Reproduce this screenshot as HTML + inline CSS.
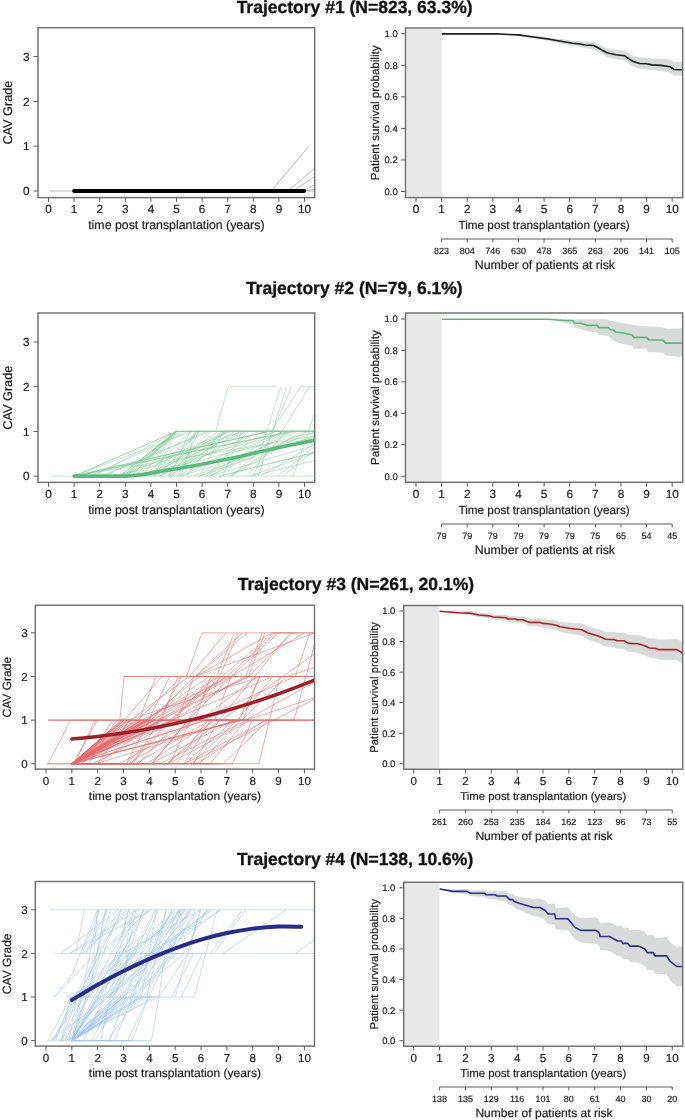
<!DOCTYPE html>
<html><head><meta charset="utf-8"><title>Trajectories</title>
<style>
html,body{margin:0;padding:0;background:#fff;}
svg{display:block;font-family:'Liberation Sans', Arial, Helvetica, sans-serif;text-rendering:geometricPrecision;}
</style></head><body>
<svg width="685" height="1120" viewBox="0 0 685 1120">
<rect width="685" height="1120" fill="#fff"/>
<defs>
<clipPath id="c0"><rect x="38.4" y="28.1" width="275.9" height="169.1"/></clipPath>
<clipPath id="c1"><rect x="38.4" y="313.4" width="275.9" height="168.6"/></clipPath>
<clipPath id="c2"><rect x="35.7" y="605.6" width="278.4" height="163.1"/></clipPath>
<clipPath id="c3"><rect x="35.7" y="881.9" width="278.4" height="163.8"/></clipPath>
<clipPath id="c4"><rect x="405.9" y="28.4" width="276.4" height="168.8"/></clipPath>
<clipPath id="c5"><rect x="405.9" y="313.4" width="276.4" height="168.5"/></clipPath>
<clipPath id="c6"><rect x="404.15" y="605.9" width="278.15" height="162.95"/></clipPath>
<clipPath id="c7"><rect x="404.15" y="882.65" width="278.15" height="163.2"/></clipPath>
</defs>
<text x="354.6" y="13.2" font-size="17.5" text-anchor="middle" font-weight="bold" stroke="#111" stroke-width="0.3" fill="#111">Trajectory #1 (N=823, 63.3%)</text>
<text x="354.3" y="294.4" font-size="17.55" text-anchor="middle" font-weight="bold" stroke="#111" stroke-width="0.3" fill="#111">Trajectory #2 (N=79, 6.1%)</text>
<text x="355.9" y="590" font-size="17.55" text-anchor="middle" font-weight="bold" stroke="#111" stroke-width="0.3" fill="#111">Trajectory #3 (N=261, 20.1%)</text>
<text x="355.1" y="864.8" font-size="17.55" text-anchor="middle" font-weight="bold" stroke="#111" stroke-width="0.3" fill="#111">Trajectory #4 (N=138, 10.6%)</text>
<g clip-path="url(#c0)" fill="none" stroke="#b0b0b0" stroke-width="0.9" stroke-opacity="1" stroke-linejoin="round">
<path d="M49.78 191L319.86 191M271.22 191L308.85 146.2M287.86 191L319.86 164.12M292.98 191L319.86 173.08M303.22 191L319.86 182.04M304.5 191L319.86 188.31"/>
</g>
<path d="M74.1 191L303.99 191" fill="none" stroke="#000" stroke-width="3.9" stroke-linecap="round" clip-path="url(#c0)"/>
<rect x="38" y="27.7" width="276.7" height="169.9" fill="none" stroke="#707070" stroke-width="1.45"/>
<path d="M48.5 197.6v4.3M74.1 197.6v4.3M99.7 197.6v4.3M125.3 197.6v4.3M150.9 197.6v4.3M176.5 197.6v4.3M202.1 197.6v4.3M227.7 197.6v4.3M253.3 197.6v4.3M278.9 197.6v4.3M304.5 197.6v4.3M38 191h-4.4M38 146.2h-4.4M38 101.4h-4.4M38 56.6h-4.4" stroke="#5c5c5c" stroke-width="1" fill="none"/>
<text x="48.5" y="212.6" font-size="11.75" text-anchor="middle" stroke="#1a1a1a" stroke-width="0.18" fill="#1a1a1a">0</text>
<text x="74.1" y="212.6" font-size="11.75" text-anchor="middle" stroke="#1a1a1a" stroke-width="0.18" fill="#1a1a1a">1</text>
<text x="99.7" y="212.6" font-size="11.75" text-anchor="middle" stroke="#1a1a1a" stroke-width="0.18" fill="#1a1a1a">2</text>
<text x="125.3" y="212.6" font-size="11.75" text-anchor="middle" stroke="#1a1a1a" stroke-width="0.18" fill="#1a1a1a">3</text>
<text x="150.9" y="212.6" font-size="11.75" text-anchor="middle" stroke="#1a1a1a" stroke-width="0.18" fill="#1a1a1a">4</text>
<text x="176.5" y="212.6" font-size="11.75" text-anchor="middle" stroke="#1a1a1a" stroke-width="0.18" fill="#1a1a1a">5</text>
<text x="202.1" y="212.6" font-size="11.75" text-anchor="middle" stroke="#1a1a1a" stroke-width="0.18" fill="#1a1a1a">6</text>
<text x="227.7" y="212.6" font-size="11.75" text-anchor="middle" stroke="#1a1a1a" stroke-width="0.18" fill="#1a1a1a">7</text>
<text x="253.3" y="212.6" font-size="11.75" text-anchor="middle" stroke="#1a1a1a" stroke-width="0.18" fill="#1a1a1a">8</text>
<text x="278.9" y="212.6" font-size="11.75" text-anchor="middle" stroke="#1a1a1a" stroke-width="0.18" fill="#1a1a1a">9</text>
<text x="304.5" y="212.6" font-size="11.75" text-anchor="middle" stroke="#1a1a1a" stroke-width="0.18" fill="#1a1a1a">10</text>
<text x="29.6" y="195.2" font-size="11.75" text-anchor="end" stroke="#1a1a1a" stroke-width="0.18" fill="#1a1a1a">0</text>
<text x="29.6" y="150.4" font-size="11.75" text-anchor="end" stroke="#1a1a1a" stroke-width="0.18" fill="#1a1a1a">1</text>
<text x="29.6" y="105.6" font-size="11.75" text-anchor="end" stroke="#1a1a1a" stroke-width="0.18" fill="#1a1a1a">2</text>
<text x="29.6" y="60.8" font-size="11.75" text-anchor="end" stroke="#1a1a1a" stroke-width="0.18" fill="#1a1a1a">3</text>
<text x="176.35" y="228.6" font-size="12.35" text-anchor="middle" stroke="#1a1a1a" stroke-width="0.18" fill="#1a1a1a">time post transplantation (years)</text>
<text x="11.6" y="112.65" font-size="12.7" text-anchor="middle" stroke="#1a1a1a" stroke-width="0.18" fill="#1a1a1a" transform="rotate(-90 11.6 112.65)">CAV Grade</text>
<g clip-path="url(#c1)" fill="none" stroke="#84cb9c" stroke-width="0.9" stroke-opacity="0.55" stroke-linejoin="round">
<path d="M51.06 476.1L319.86 476.1M176.5 431.4L319.86 431.4M215.67 431.4L228.21 386.7L276.34 386.7M260.98 449.28L280.95 386.7M253.3 476.1L291.7 386.7M271.22 431.4L300.66 386.7L319.86 386.7M278.9 435.87L309.62 386.7M293.24 476.1L319.86 397.88M258.42 476.1L286.58 386.7M74.1 476.1L268.66 431.4L319.86 431.4M74.1 476.1L268.66 431.4L294.26 431.4M74.1 476.1L291.7 431.4L342.9 431.4M74.1 476.1L191.86 431.4M74.1 476.1L291.7 431.4L317.3 431.4M74.1 476.1L342.9 431.4L394.1 431.4M74.1 476.1L176.5 431.4M74.1 476.1L268.66 431.4M74.1 476.1L176.5 431.4M74.1 476.1L291.7 431.4L319.86 431.4M102.45 476.1L209.79 431.4L235.39 431.4M102.85 476.1L206.79 431.4L257.99 431.4M89.77 476.1L187.69 431.4M93.36 476.1L176.5 431.4L202.1 431.4M121.74 476.1L227.65 431.4L278.85 431.4M119.85 476.1L176.5 431.4L319.86 431.4M116.8 476.1L242.53 431.4L293.73 431.4M135.45 476.1L176.5 431.4M130.58 476.1L230.82 431.4M126.59 476.1L176.5 431.4M122.98 476.1L176.5 431.4M119.43 476.1L176.5 431.4L319.86 431.4M123.2 476.1L176.5 431.4M131 476.1L176.5 431.4M134.8 476.1L318.33 431.4M120.11 476.1L176.5 431.4L202.1 431.4M131.38 476.1L176.5 431.4M124.22 476.1L180.39 431.4L205.99 431.4M128.24 476.1L176.5 431.4M115.07 476.1L295.22 431.4M144.98 476.1L226.85 431.4L278.05 431.4M153.8 476.1L176.5 431.4M145.03 476.1L191.21 431.4L242.41 431.4M147.4 476.1L197.43 431.4M142.51 476.1L246.3 431.4M152.97 476.1L218.23 431.4M160.3 476.1L240.51 431.4M158.41 476.1L198.11 431.4M159.26 476.1L259.1 431.4M143.91 476.1L276.42 431.4M154.73 476.1L235.44 431.4L286.64 431.4M142.27 476.1L176.5 431.4M151.15 476.1L199.67 431.4L319.86 431.4M148.68 476.1L228.8 431.4L280 431.4M176.32 476.1L275.39 431.4L319.86 431.4M186.27 476.1L221.89 431.4L273.09 431.4M179.64 476.1L283.21 431.4M170.61 476.1L224.36 431.4M171.77 476.1L246 431.4M169.87 476.1L234.19 431.4M168.15 476.1L210.55 431.4M179.71 476.1L333.54 431.4M178.34 476.1L198.56 431.4M180.62 476.1L196.19 431.4L319.86 431.4M167.79 476.1L195.75 431.4M169.06 476.1L190.31 431.4L241.51 431.4M199.39 476.1L223.97 431.4L319.86 431.4M206.96 476.1L248.36 431.4M199.07 476.1L326.79 431.4M209.7 476.1L291.05 431.4M209.54 476.1L306.97 431.4L319.86 431.4M199.69 476.1L297.1 431.4M193.5 476.1L317.57 431.4M209.88 476.1L361.74 431.4M206.08 476.1L282.27 431.4L333.47 431.4M219.18 476.1L398.52 431.4M229.77 476.1L301.68 431.4L319.86 431.4M219.77 476.1L400.14 431.4L425.74 431.4M222.7 476.1L241.83 431.4M231.35 476.1L282.74 431.4M230.98 476.1L307.76 431.4M249.76 476.1L375.2 431.4M251.88 476.1L433.69 431.4M261.09 476.1L335.02 431.4M247.36 476.1L285.72 431.4M283.23 476.1L337.72 431.4M277.89 476.1L333.45 431.4L359.05 431.4"/>
</g>
<path d="M74.1 476.1C78.37 476.1 91.17 476.1 99.7 476.1C108.23 476.1 118.9 476.26 125.3 476.1C131.7 475.94 133.83 475.62 138.1 475.12C142.37 474.62 144.5 474.17 150.9 473.11C157.3 472.04 167.97 470.2 176.5 468.72C185.03 467.25 193.57 465.86 202.1 464.25C210.63 462.65 219.17 460.94 227.7 459.11C236.23 457.29 244.77 455.24 253.3 453.3C261.83 451.37 268.66 449.69 278.9 447.49C289.14 445.29 307.06 441.68 314.74 440.12C322.42 438.55 323.27 438.44 324.98 438.11" fill="none" stroke="#5cb87c" stroke-width="3.6" stroke-linecap="round" clip-path="url(#c1)"/>
<rect x="38" y="313" width="276.7" height="169.4" fill="none" stroke="#707070" stroke-width="1.45"/>
<path d="M48.5 482.4v4.3M74.1 482.4v4.3M99.7 482.4v4.3M125.3 482.4v4.3M150.9 482.4v4.3M176.5 482.4v4.3M202.1 482.4v4.3M227.7 482.4v4.3M253.3 482.4v4.3M278.9 482.4v4.3M304.5 482.4v4.3M38 476.1h-4.4M38 431.4h-4.4M38 386.7h-4.4M38 342h-4.4" stroke="#5c5c5c" stroke-width="1" fill="none"/>
<text x="48.5" y="497.6" font-size="11.75" text-anchor="middle" stroke="#1a1a1a" stroke-width="0.18" fill="#1a1a1a">0</text>
<text x="74.1" y="497.6" font-size="11.75" text-anchor="middle" stroke="#1a1a1a" stroke-width="0.18" fill="#1a1a1a">1</text>
<text x="99.7" y="497.6" font-size="11.75" text-anchor="middle" stroke="#1a1a1a" stroke-width="0.18" fill="#1a1a1a">2</text>
<text x="125.3" y="497.6" font-size="11.75" text-anchor="middle" stroke="#1a1a1a" stroke-width="0.18" fill="#1a1a1a">3</text>
<text x="150.9" y="497.6" font-size="11.75" text-anchor="middle" stroke="#1a1a1a" stroke-width="0.18" fill="#1a1a1a">4</text>
<text x="176.5" y="497.6" font-size="11.75" text-anchor="middle" stroke="#1a1a1a" stroke-width="0.18" fill="#1a1a1a">5</text>
<text x="202.1" y="497.6" font-size="11.75" text-anchor="middle" stroke="#1a1a1a" stroke-width="0.18" fill="#1a1a1a">6</text>
<text x="227.7" y="497.6" font-size="11.75" text-anchor="middle" stroke="#1a1a1a" stroke-width="0.18" fill="#1a1a1a">7</text>
<text x="253.3" y="497.6" font-size="11.75" text-anchor="middle" stroke="#1a1a1a" stroke-width="0.18" fill="#1a1a1a">8</text>
<text x="278.9" y="497.6" font-size="11.75" text-anchor="middle" stroke="#1a1a1a" stroke-width="0.18" fill="#1a1a1a">9</text>
<text x="304.5" y="497.6" font-size="11.75" text-anchor="middle" stroke="#1a1a1a" stroke-width="0.18" fill="#1a1a1a">10</text>
<text x="29.6" y="480.3" font-size="11.75" text-anchor="end" stroke="#1a1a1a" stroke-width="0.18" fill="#1a1a1a">0</text>
<text x="29.6" y="435.6" font-size="11.75" text-anchor="end" stroke="#1a1a1a" stroke-width="0.18" fill="#1a1a1a">1</text>
<text x="29.6" y="390.9" font-size="11.75" text-anchor="end" stroke="#1a1a1a" stroke-width="0.18" fill="#1a1a1a">2</text>
<text x="29.6" y="346.2" font-size="11.75" text-anchor="end" stroke="#1a1a1a" stroke-width="0.18" fill="#1a1a1a">3</text>
<text x="176.35" y="513.6" font-size="12.35" text-anchor="middle" stroke="#1a1a1a" stroke-width="0.18" fill="#1a1a1a">time post transplantation (years)</text>
<text x="11.6" y="397.7" font-size="12.7" text-anchor="middle" stroke="#1a1a1a" stroke-width="0.18" fill="#1a1a1a" transform="rotate(-90 11.6 397.7)">CAV Grade</text>
<g clip-path="url(#c2)" fill="none" stroke="#e26a6a" stroke-width="0.9" stroke-opacity="0.62" stroke-linejoin="round">
<path d="M48.07 720.15L319.9 720.15M48.07 720.15L319.9 720.15M48.58 720.15L319.9 720.15M71.84 720.15L319.9 720.15M47.29 763.8L201.04 763.8M124.04 676.5L319.9 676.5M47.29 763.8L258.92 763.8L279.85 676.5L319.9 676.5M48.07 763.8L70.55 720.15M73.13 763.8L97.42 720.15M74.42 763.8L95.1 720.15M119.9 720.15L124.04 676.5L319.9 676.5M139.02 720.15L155.82 676.5M186.57 676.5L201.82 632.85L319.9 632.85M294.06 720.15L319.9 624.12M216.54 676.5L234.37 632.85M213.96 689.59L238.25 632.85M71.84 763.8L120.94 720.15M71.84 763.8L123.52 720.15M71.84 763.8L127.4 720.15M71.84 763.8L131.27 720.15M71.84 763.8L136.44 720.15M71.84 763.8L141.61 720.15M71.84 763.8L146.78 720.15M71.84 763.8L154.53 720.15M169.68 763.8L190.65 720.15L330.21 676.5M71.84 763.8L242.94 720.15L259.47 676.5M71.84 763.8L154.43 720.15M71.84 763.8L148.17 720.15M151.97 763.8L187.82 720.15L217.66 676.5M71.84 763.8L96.14 763.8L236.95 720.15M71.84 763.8L124.39 720.15L161.89 676.5M71.84 763.8L96.45 763.8M195.13 676.5L242.23 632.85M71.84 763.8L147.18 720.15L199.28 676.5M71.84 763.8L163.12 720.15L185.66 720.15M200.64 763.8L216.7 763.8M97.28 763.8L129.74 720.15M71.84 763.8L141.56 720.15L230.93 676.5L304.55 632.85M71.84 763.8L248.48 676.5L292.46 632.85M146.16 763.8L214.45 720.15L231.13 676.5L278.67 632.85M135.82 763.8L192.25 763.8L237.11 720.15L272.92 676.5M223.51 720.15L279.77 720.15M195.77 676.5L271.98 632.85L296.56 632.85M195.86 676.5L247.24 632.85M130.05 763.8L173.01 720.15L243.98 676.5M71.84 763.8L148.73 720.15L169.72 676.5M71.84 763.8L170.97 720.15L273.41 632.85L348.24 632.85M71.84 763.8L119.54 763.8L194.75 720.15L210.82 676.5M71.84 763.8L272.4 676.5M199.94 720.15L257.13 676.5M126.21 763.8L215.66 676.5M184.46 763.8L234.08 720.15M120.41 763.8L167.56 763.8L213.24 720.15M151.34 763.8L188.65 720.15M92.66 763.8L177.58 720.15L193.98 676.5L268.48 676.5M183.88 763.8L210.66 720.15L236.27 720.15M71.84 763.8L206.07 720.15M71.84 763.8L135.2 763.8L210.54 720.15M245.73 676.5L262.35 632.85M95.94 763.8L168.16 763.8L250.7 720.15M71.84 763.8L139.5 720.15M159.77 763.8L247.13 720.15M71.84 763.8L227.22 676.5L275.95 632.85M71.84 763.8L161.37 720.15L177.95 676.5M71.84 763.8L127.99 720.15L261.19 676.5M71.84 763.8L175.33 720.15M203.85 720.15L224.27 720.15M257.69 676.5L310.97 676.5M71.84 763.8L142 720.15M176.27 763.8L207.57 720.15L248.49 720.15M245.53 720.15L324.59 676.5M71.84 763.8L145.38 720.15M193.4 763.8L219.09 720.15L290.31 632.85M71.84 763.8L141.21 720.15M221.49 720.15L282.57 676.5L344.22 632.85M71.84 763.8L205.89 720.15L248.31 720.15M71.84 763.8L233.35 676.5M190.31 763.8L223.38 763.8L268.32 720.15M166.78 763.8L220.24 720.15M71.84 763.8L133.87 720.15M71.84 763.8L145.63 720.15L209.27 676.5M128.46 763.8L198.57 720.15L295.08 676.5L309.86 632.85M133.18 763.8L159.39 720.15L181.46 676.5M190.47 763.8L232.4 763.8L252.28 720.15M71.84 763.8L128.37 720.15M71.84 763.8L153.23 720.15M120.04 720.15L149.04 720.15L174.87 720.15M71.84 763.8L173.56 720.15L212.34 676.5M188.42 763.8L358.7 676.5M71.84 763.8L143.59 720.15M71.84 763.8L124.15 720.15M82.93 763.8L112.94 720.15M71.84 763.8L150.57 720.15L194.75 676.5L315.25 632.85M71.84 763.8L122.59 720.15M97.08 763.8L159.53 720.15L227 676.5M71.84 763.8L238.77 720.15L260.18 676.5M79.79 763.8L160.88 720.15M71.84 763.8L241.45 720.15L287.04 676.5L419.29 632.85M71.84 763.8L125.14 720.15M71.84 763.8L102.94 763.8M150.84 763.8L233.83 720.15M71.84 763.8L189.32 676.5L225.87 632.85M193.12 763.8L209.99 763.8L245.89 720.15L513.56 632.85M71.84 763.8L180.86 720.15M184.39 763.8L266.64 720.15L294.71 720.15M71.84 763.8L146.9 763.8M71.84 763.8L136.52 763.8L188.57 763.8M138.26 763.8L179.97 720.15M199.39 720.15L237.51 720.15M71.84 763.8L137.91 720.15L181.21 676.5L251.58 676.5M199.07 763.8L240.36 720.15M71.84 763.8L219.03 676.5M71.84 763.8L156.63 720.15L248.42 676.5L264.77 632.85M71.84 763.8L135.58 763.8M71.84 763.8L121.77 720.15M88.43 763.8L116.48 720.15M71.84 763.8L164.9 720.15L187.94 720.15L231.65 676.5M92.33 763.8L126.1 763.8L149.6 720.15M196.8 763.8L265.46 720.15"/>
</g>
<path d="M71.84 738.92C76.15 738.5 89.07 737.4 97.68 736.41C106.29 735.43 114.91 734.29 123.52 733.01C132.13 731.73 140.75 730.3 149.36 728.71C157.97 727.13 166.59 725.4 175.2 723.52C183.81 721.64 192.43 719.61 201.04 717.43C209.65 715.26 218.27 712.93 226.88 710.45C235.49 707.98 244.11 705.35 252.72 702.58C261.33 699.8 269.95 696.88 278.56 693.81C287.17 690.73 296.65 687.15 304.4 684.14C312.15 681.13 321.63 677.16 325.07 675.76" fill="none" stroke="#a01e28" stroke-width="3.5" stroke-linecap="round" clip-path="url(#c2)"/>
<rect x="35.3" y="605.2" width="279.2" height="163.9" fill="none" stroke="#707070" stroke-width="1.45"/>
<path d="M46 769.1v4.3M71.84 769.1v4.3M97.68 769.1v4.3M123.52 769.1v4.3M149.36 769.1v4.3M175.2 769.1v4.3M201.04 769.1v4.3M226.88 769.1v4.3M252.72 769.1v4.3M278.56 769.1v4.3M304.4 769.1v4.3M35.3 763.8h-4.4M35.3 720.15h-4.4M35.3 676.5h-4.4M35.3 632.85h-4.4" stroke="#5c5c5c" stroke-width="1" fill="none"/>
<text x="46" y="785" font-size="11.6" text-anchor="middle" stroke="#1a1a1a" stroke-width="0.18" fill="#1a1a1a">0</text>
<text x="71.84" y="785" font-size="11.6" text-anchor="middle" stroke="#1a1a1a" stroke-width="0.18" fill="#1a1a1a">1</text>
<text x="97.68" y="785" font-size="11.6" text-anchor="middle" stroke="#1a1a1a" stroke-width="0.18" fill="#1a1a1a">2</text>
<text x="123.52" y="785" font-size="11.6" text-anchor="middle" stroke="#1a1a1a" stroke-width="0.18" fill="#1a1a1a">3</text>
<text x="149.36" y="785" font-size="11.6" text-anchor="middle" stroke="#1a1a1a" stroke-width="0.18" fill="#1a1a1a">4</text>
<text x="175.2" y="785" font-size="11.6" text-anchor="middle" stroke="#1a1a1a" stroke-width="0.18" fill="#1a1a1a">5</text>
<text x="201.04" y="785" font-size="11.6" text-anchor="middle" stroke="#1a1a1a" stroke-width="0.18" fill="#1a1a1a">6</text>
<text x="226.88" y="785" font-size="11.6" text-anchor="middle" stroke="#1a1a1a" stroke-width="0.18" fill="#1a1a1a">7</text>
<text x="252.72" y="785" font-size="11.6" text-anchor="middle" stroke="#1a1a1a" stroke-width="0.18" fill="#1a1a1a">8</text>
<text x="278.56" y="785" font-size="11.6" text-anchor="middle" stroke="#1a1a1a" stroke-width="0.18" fill="#1a1a1a">9</text>
<text x="304.4" y="785" font-size="11.6" text-anchor="middle" stroke="#1a1a1a" stroke-width="0.18" fill="#1a1a1a">10</text>
<text x="27.6" y="768" font-size="11.6" text-anchor="end" stroke="#1a1a1a" stroke-width="0.18" fill="#1a1a1a">0</text>
<text x="27.6" y="724.35" font-size="11.6" text-anchor="end" stroke="#1a1a1a" stroke-width="0.18" fill="#1a1a1a">1</text>
<text x="27.6" y="680.7" font-size="11.6" text-anchor="end" stroke="#1a1a1a" stroke-width="0.18" fill="#1a1a1a">2</text>
<text x="27.6" y="637.05" font-size="11.6" text-anchor="end" stroke="#1a1a1a" stroke-width="0.18" fill="#1a1a1a">3</text>
<text x="174.9" y="800.2" font-size="12.05" text-anchor="middle" stroke="#1a1a1a" stroke-width="0.18" fill="#1a1a1a">time post transplantation (years)</text>
<text x="11.1" y="687.15" font-size="12.05" text-anchor="middle" stroke="#1a1a1a" stroke-width="0.18" fill="#1a1a1a" transform="rotate(-90 11.1 687.15)">CAV Grade</text>
<g clip-path="url(#c3)" fill="none" stroke="#a6c7ea" stroke-width="0.85" stroke-opacity="0.68" stroke-linejoin="round">
<path d="M49.88 909.8L319.9 909.8M55.04 953.4L319.9 953.4M66.67 997L194.32 997L217.32 909.8M47.29 1040.6L151.43 1040.6L158.92 997L164.86 953.4M73.13 1040.6L98.46 909.8M48.07 1040.6L70.55 997M53.75 1040.6L77.01 997M55.04 997L95.1 953.4M60.99 953.4L118.35 909.8M53.75 997L71.84 975.2L97.68 909.8M93.8 953.4L97.68 909.8M175.2 997L200.26 909.8M210.6 953.4L242.38 909.8M213.96 953.4L245.48 909.8M223 953.4L286.05 909.8M295.61 953.4L319.9 935.96M71.84 1040.6L120.94 997M71.84 1040.6L123.52 997M71.84 1040.6L127.4 997M71.84 1040.6L131.27 997M71.84 1040.6L136.44 997M71.84 1040.6L141.61 997M71.84 1040.6L146.78 997M71.84 1040.6L154.53 997M71.84 1040.6L80.39 997L220.69 909.8M158.55 953.4L178.67 909.8M66.56 997L161.05 953.4M71.84 1040.6L146.92 909.8M109.38 997L174.64 909.8M87.84 997L105.42 909.8M171.59 997L193.58 953.4M82.34 953.4L130.43 909.8M61.46 1040.6L70.37 997M71.84 1040.6L151.48 953.4L185.35 909.8M71.84 1040.6L96.06 997M71.84 1040.6L90.13 1040.6M52.87 1040.6L97.04 953.4L106.12 909.8M71.84 1040.6L127.14 953.4L136.09 909.8M123 997L208.18 909.8M67.23 1040.6L120.25 997L128.25 953.4M76.06 997L182.01 909.8M71.84 1040.6L101.11 997L220.87 909.8M58.93 1040.6L157.12 953.4L209.53 909.8M55.56 1040.6L71.89 997M74.51 1040.6L90.9 1040.6L124.33 1040.6M109.36 997L132.53 953.4L155.05 909.8M150.27 953.4L172.16 909.8M111.28 997L121.14 997L191.59 909.8M71.84 1040.6L101.1 1040.6M150.55 953.4L211.86 909.8M69.14 1040.6L76.75 997L122.14 953.4L143.87 909.8M71.84 1040.6L140.55 997L152 997M71.84 1040.6L83.58 1040.6L104.22 997M75.82 953.4L84.5 909.8M71.84 1040.6L105 1040.6L114.46 1040.6M71.84 1040.6L139.49 997M71.84 1040.6L100.46 953.4M71.84 1040.6L98.82 997M51.06 1040.6L82.98 997L110.66 909.8M181.19 997L202.62 953.4M96.53 997L133.37 953.4M71.84 1040.6L175.29 953.4M64.93 1040.6L134.99 909.8M71.84 1040.6L143.38 997M124.75 953.4L133.39 909.8M102.77 953.4L149.1 909.8M132.61 997L146.61 953.4L172.45 909.8M96.37 953.4L125.29 909.8M71.84 1040.6L138.92 909.8M98.16 1040.6L127.34 1040.6L144.27 1040.6M137.92 997L171.98 953.4L195.5 909.8M93.05 1040.6L127.59 1040.6L169.75 953.4L190.1 909.8M167.88 953.4L205.01 953.4M71.33 997L148.69 953.4L164.33 953.4M117.9 953.4L180.23 909.8M61.71 1040.6L124.9 997M69.62 953.4L151.48 909.8M51 1040.6L164.84 953.4L199.54 909.8M71.84 1040.6L88.1 997L122.89 953.4M69.54 1040.6L103.52 997L128.9 909.8M100.67 1040.6L128.39 909.8M79.78 997L156.59 953.4L190.3 909.8M114.29 1040.6L151.81 953.4L211.8 909.8M95.23 1040.6L120.67 997L152.35 997M74.84 1040.6L115.67 997M141.34 997L156.73 909.8M61.21 1040.6L77.32 997L100.04 953.4L144.51 909.8M73.41 997L120.28 953.4M107.95 1040.6L132.12 1040.6L148.31 997M85.78 953.4L107.4 909.8M69.67 953.4L137.64 909.8M133.78 953.4L182.88 909.8M75.19 997L89.3 997L135.39 953.4M136.4 997L183.55 909.8M65 1040.6L158.99 997L187.84 953.4L200.88 909.8M71.84 1040.6L123.58 953.4L200.39 909.8M149.21 997L157.66 997M61.23 1040.6L83.49 997M120.68 997L179.64 909.8M109.38 1040.6L157.62 909.8M130.05 997L152.9 953.4L166.54 909.8M146.96 997L166.33 909.8M77.71 997L122.2 909.8M131.22 997L176.79 953.4M82.26 953.4L99.63 909.8M71.84 1040.6L129.46 997M71.84 1040.6L114.88 997L142.9 909.8M86.28 953.4L121.1 909.8M91.97 1040.6L156.28 909.8M134.93 953.4L146.13 953.4L183.18 953.4L206.74 909.8M108.19 1040.6L137.51 997M71.84 1040.6L117.85 997M71.84 1040.6L132.22 997L184.48 953.4M71.84 1040.6L86.28 997L120.55 909.8M110.47 997L131.79 953.4M105.06 997L130.47 953.4L186.43 909.8M143.88 997L168.26 953.4L188.29 909.8M167.6 953.4L180.45 909.8M71.84 1040.6L125.64 997"/>
</g>
<path d="M71.84 1000.04C76.15 997.5 89.07 989.66 97.68 984.82C106.29 979.99 114.91 975.36 123.52 971.03C132.13 966.69 140.75 962.59 149.36 958.8C157.97 955.01 166.59 951.49 175.2 948.3C183.81 945.11 192.43 942.21 201.04 939.67C209.65 937.13 218.27 934.91 226.88 933.07C235.49 931.23 244.11 929.73 252.72 928.64C261.33 927.55 270.46 926.85 278.56 926.53C286.66 926.22 297.51 926.7 301.3 926.73" fill="none" stroke="#292b8a" stroke-width="4.0" stroke-linecap="round" clip-path="url(#c3)"/>
<rect x="35.3" y="881.5" width="279.2" height="164.6" fill="none" stroke="#707070" stroke-width="1.45"/>
<path d="M46 1046.1v4.3M71.84 1046.1v4.3M97.68 1046.1v4.3M123.52 1046.1v4.3M149.36 1046.1v4.3M175.2 1046.1v4.3M201.04 1046.1v4.3M226.88 1046.1v4.3M252.72 1046.1v4.3M278.56 1046.1v4.3M304.4 1046.1v4.3M35.3 1040.6h-4.4M35.3 997h-4.4M35.3 953.4h-4.4M35.3 909.8h-4.4" stroke="#5c5c5c" stroke-width="1" fill="none"/>
<text x="46" y="1062" font-size="11.6" text-anchor="middle" stroke="#1a1a1a" stroke-width="0.18" fill="#1a1a1a">0</text>
<text x="71.84" y="1062" font-size="11.6" text-anchor="middle" stroke="#1a1a1a" stroke-width="0.18" fill="#1a1a1a">1</text>
<text x="97.68" y="1062" font-size="11.6" text-anchor="middle" stroke="#1a1a1a" stroke-width="0.18" fill="#1a1a1a">2</text>
<text x="123.52" y="1062" font-size="11.6" text-anchor="middle" stroke="#1a1a1a" stroke-width="0.18" fill="#1a1a1a">3</text>
<text x="149.36" y="1062" font-size="11.6" text-anchor="middle" stroke="#1a1a1a" stroke-width="0.18" fill="#1a1a1a">4</text>
<text x="175.2" y="1062" font-size="11.6" text-anchor="middle" stroke="#1a1a1a" stroke-width="0.18" fill="#1a1a1a">5</text>
<text x="201.04" y="1062" font-size="11.6" text-anchor="middle" stroke="#1a1a1a" stroke-width="0.18" fill="#1a1a1a">6</text>
<text x="226.88" y="1062" font-size="11.6" text-anchor="middle" stroke="#1a1a1a" stroke-width="0.18" fill="#1a1a1a">7</text>
<text x="252.72" y="1062" font-size="11.6" text-anchor="middle" stroke="#1a1a1a" stroke-width="0.18" fill="#1a1a1a">8</text>
<text x="278.56" y="1062" font-size="11.6" text-anchor="middle" stroke="#1a1a1a" stroke-width="0.18" fill="#1a1a1a">9</text>
<text x="304.4" y="1062" font-size="11.6" text-anchor="middle" stroke="#1a1a1a" stroke-width="0.18" fill="#1a1a1a">10</text>
<text x="27.6" y="1044.8" font-size="11.6" text-anchor="end" stroke="#1a1a1a" stroke-width="0.18" fill="#1a1a1a">0</text>
<text x="27.6" y="1001.2" font-size="11.6" text-anchor="end" stroke="#1a1a1a" stroke-width="0.18" fill="#1a1a1a">1</text>
<text x="27.6" y="957.6" font-size="11.6" text-anchor="end" stroke="#1a1a1a" stroke-width="0.18" fill="#1a1a1a">2</text>
<text x="27.6" y="914" font-size="11.6" text-anchor="end" stroke="#1a1a1a" stroke-width="0.18" fill="#1a1a1a">3</text>
<text x="174.9" y="1077.3" font-size="12.05" text-anchor="middle" stroke="#1a1a1a" stroke-width="0.18" fill="#1a1a1a">time post transplantation (years)</text>
<text x="11.1" y="963.8" font-size="12.05" text-anchor="middle" stroke="#1a1a1a" stroke-width="0.18" fill="#1a1a1a" transform="rotate(-90 11.1 963.8)">CAV Grade</text>
<rect x="405.9" y="28.4" width="35.72" height="168.8" fill="#e9e9e9"/>
<g clip-path="url(#c4)">
<path d="M442 33.9L497 33.9L499.6 33.96L518.6 34.15L533.2 35.74L547.8 37.28L562.4 39.36L572.6 40.77L578.4 40.95L585 41.77L593.8 41.71L606.9 48.35L615.7 49.81L624.4 50.38L633.2 55.89L639.7 57.58L646.3 57.66L652.2 58.56L660.9 58.76L670.4 59.68L674 62.2L684 61.9L684 75.9L674 75.45L670.4 72.66L660.9 71.02L652.2 70.34L646.3 69.13L639.7 68.69L633.2 66.66L624.4 60.48L615.7 59.13L606.9 56.88L593.8 49.05L585 48.1L578.4 46.4L572.6 45.63L562.4 43.64L547.8 40.72L533.2 38.26L518.6 35.65L499.6 34.14L497 33.9L442 33.9Z" fill="#d9dada"/>
<path d="M442 33.9L497 33.9L499.6 34.05L518.6 34.9L533.2 37L547.8 39L562.4 41.5L572.6 43.2L578.4 43.7L585 45L593.8 45.5L606.9 52.8L615.7 54.7L624.4 55.7L633.2 61.6L639.7 63.5L646.3 63.8L652.2 64.9L660.9 65.4L670.4 66.8L674 69.5L684 69.7" fill="none" stroke="#1c1c1c" stroke-width="1.6" stroke-linejoin="round"/>
</g>
<rect x="405.5" y="28" width="277.2" height="169.6" fill="none" stroke="#707070" stroke-width="1.45"/>
<path d="M416 197.6v4.3M441.62 197.6v4.3M467.24 197.6v4.3M492.86 197.6v4.3M518.48 197.6v4.3M544.1 197.6v4.3M569.72 197.6v4.3M595.34 197.6v4.3M620.96 197.6v4.3M646.58 197.6v4.3M672.2 197.6v4.3M405.5 191.5h-4.4M405.5 159.95h-4.4M405.5 128.4h-4.4M405.5 96.85h-4.4M405.5 65.3h-4.4M405.5 33.75h-4.4M441.62 239H672.2M441.62 239v3.4M467.24 239v3.4M492.86 239v3.4M518.48 239v3.4M544.1 239v3.4M569.72 239v3.4M595.34 239v3.4M620.96 239v3.4M646.58 239v3.4M672.2 239v3.4" stroke="#5c5c5c" stroke-width="1" fill="none"/>
<text x="416" y="212.7" font-size="11.75" text-anchor="middle" stroke="#1a1a1a" stroke-width="0.18" fill="#1a1a1a">0</text>
<text x="441.62" y="212.7" font-size="11.75" text-anchor="middle" stroke="#1a1a1a" stroke-width="0.18" fill="#1a1a1a">1</text>
<text x="467.24" y="212.7" font-size="11.75" text-anchor="middle" stroke="#1a1a1a" stroke-width="0.18" fill="#1a1a1a">2</text>
<text x="492.86" y="212.7" font-size="11.75" text-anchor="middle" stroke="#1a1a1a" stroke-width="0.18" fill="#1a1a1a">3</text>
<text x="518.48" y="212.7" font-size="11.75" text-anchor="middle" stroke="#1a1a1a" stroke-width="0.18" fill="#1a1a1a">4</text>
<text x="544.1" y="212.7" font-size="11.75" text-anchor="middle" stroke="#1a1a1a" stroke-width="0.18" fill="#1a1a1a">5</text>
<text x="569.72" y="212.7" font-size="11.75" text-anchor="middle" stroke="#1a1a1a" stroke-width="0.18" fill="#1a1a1a">6</text>
<text x="595.34" y="212.7" font-size="11.75" text-anchor="middle" stroke="#1a1a1a" stroke-width="0.18" fill="#1a1a1a">7</text>
<text x="620.96" y="212.7" font-size="11.75" text-anchor="middle" stroke="#1a1a1a" stroke-width="0.18" fill="#1a1a1a">8</text>
<text x="646.58" y="212.7" font-size="11.75" text-anchor="middle" stroke="#1a1a1a" stroke-width="0.18" fill="#1a1a1a">9</text>
<text x="672.2" y="212.7" font-size="11.75" text-anchor="middle" stroke="#1a1a1a" stroke-width="0.18" fill="#1a1a1a">10</text>
<text x="397.8" y="194.9" font-size="9.5" text-anchor="end" stroke="#222" stroke-width="0.18" fill="#222">0.0</text>
<text x="397.8" y="163.35" font-size="9.5" text-anchor="end" stroke="#222" stroke-width="0.18" fill="#222">0.2</text>
<text x="397.8" y="131.8" font-size="9.5" text-anchor="end" stroke="#222" stroke-width="0.18" fill="#222">0.4</text>
<text x="397.8" y="100.25" font-size="9.5" text-anchor="end" stroke="#222" stroke-width="0.18" fill="#222">0.6</text>
<text x="397.8" y="68.7" font-size="9.5" text-anchor="end" stroke="#222" stroke-width="0.18" fill="#222">0.8</text>
<text x="397.8" y="37.15" font-size="9.5" text-anchor="end" stroke="#222" stroke-width="0.18" fill="#222">1.0</text>
<text x="544.1" y="229.2" font-size="11.75" text-anchor="middle" stroke="#1a1a1a" stroke-width="0.18" fill="#1a1a1a">Time post transplantation (years)</text>
<text x="378.8" y="112.8" font-size="11.6" text-anchor="middle" stroke="#1a1a1a" stroke-width="0.18" fill="#1a1a1a" transform="rotate(-90 378.8 112.8)">Patient survival probability</text>
<text x="441.62" y="253.8" font-size="9" text-anchor="middle" stroke="#222" stroke-width="0.18" fill="#222">823</text>
<text x="467.24" y="253.8" font-size="9" text-anchor="middle" stroke="#222" stroke-width="0.18" fill="#222">804</text>
<text x="492.86" y="253.8" font-size="9" text-anchor="middle" stroke="#222" stroke-width="0.18" fill="#222">746</text>
<text x="518.48" y="253.8" font-size="9" text-anchor="middle" stroke="#222" stroke-width="0.18" fill="#222">630</text>
<text x="544.1" y="253.8" font-size="9" text-anchor="middle" stroke="#222" stroke-width="0.18" fill="#222">478</text>
<text x="569.72" y="253.8" font-size="9" text-anchor="middle" stroke="#222" stroke-width="0.18" fill="#222">365</text>
<text x="595.34" y="253.8" font-size="9" text-anchor="middle" stroke="#222" stroke-width="0.18" fill="#222">263</text>
<text x="620.96" y="253.8" font-size="9" text-anchor="middle" stroke="#222" stroke-width="0.18" fill="#222">206</text>
<text x="646.58" y="253.8" font-size="9" text-anchor="middle" stroke="#222" stroke-width="0.18" fill="#222">141</text>
<text x="672.2" y="253.8" font-size="9" text-anchor="middle" stroke="#222" stroke-width="0.18" fill="#222">105</text>
<text x="544.9" y="269.3" font-size="12.3" text-anchor="middle" stroke="#1a1a1a" stroke-width="0.18" fill="#1a1a1a">Number of patients at risk</text>
<rect x="405.9" y="313.4" width="35.72" height="168.5" fill="#e9e9e9"/>
<g clip-path="url(#c5)">
<path d="M548 319.2L606 319.3L613.8 321.4L633.5 325.1L646.7 326.2L662 326.9L665.3 328.6L684 328.6L684 356.7L665.7 355.8L663 352.7L647.8 352L646.7 348.8L633.5 348.8L632.4 346L616 342.2L610.5 339L608.4 335.7L598.5 335L597.4 332.4L587.5 331.3L574.4 327.6L573 324.7L561 322L557 320.8L548 319.2Z" fill="#d9dada"/>
<path d="M442 319.2L548 319.2L561.3 320.3L573.3 320.8L574.4 323L582 323.4L587.5 325.4L597.4 325.4L598.5 327.6L608.4 327.6L610.5 329.7L613.8 330.2L616 332.2L622.6 332.8L632.4 335L633.5 337.4L646.7 337.4L648.9 340L663 340L665.7 343.1L684 343.1" fill="none" stroke="#5cb87c" stroke-width="1.6" stroke-linejoin="round"/>
</g>
<rect x="405.5" y="313" width="277.2" height="169.3" fill="none" stroke="#707070" stroke-width="1.45"/>
<path d="M416 482.3v4.3M441.62 482.3v4.3M467.24 482.3v4.3M492.86 482.3v4.3M518.48 482.3v4.3M544.1 482.3v4.3M569.72 482.3v4.3M595.34 482.3v4.3M620.96 482.3v4.3M646.58 482.3v4.3M672.2 482.3v4.3M405.5 476.25h-4.4M405.5 444.8h-4.4M405.5 413.35h-4.4M405.5 381.9h-4.4M405.5 350.45h-4.4M405.5 319h-4.4M441.62 524H672.2M441.62 524v3.4M467.24 524v3.4M492.86 524v3.4M518.48 524v3.4M544.1 524v3.4M569.72 524v3.4M595.34 524v3.4M620.96 524v3.4M646.58 524v3.4M672.2 524v3.4" stroke="#5c5c5c" stroke-width="1" fill="none"/>
<text x="416" y="497.8" font-size="11.75" text-anchor="middle" stroke="#1a1a1a" stroke-width="0.18" fill="#1a1a1a">0</text>
<text x="441.62" y="497.8" font-size="11.75" text-anchor="middle" stroke="#1a1a1a" stroke-width="0.18" fill="#1a1a1a">1</text>
<text x="467.24" y="497.8" font-size="11.75" text-anchor="middle" stroke="#1a1a1a" stroke-width="0.18" fill="#1a1a1a">2</text>
<text x="492.86" y="497.8" font-size="11.75" text-anchor="middle" stroke="#1a1a1a" stroke-width="0.18" fill="#1a1a1a">3</text>
<text x="518.48" y="497.8" font-size="11.75" text-anchor="middle" stroke="#1a1a1a" stroke-width="0.18" fill="#1a1a1a">4</text>
<text x="544.1" y="497.8" font-size="11.75" text-anchor="middle" stroke="#1a1a1a" stroke-width="0.18" fill="#1a1a1a">5</text>
<text x="569.72" y="497.8" font-size="11.75" text-anchor="middle" stroke="#1a1a1a" stroke-width="0.18" fill="#1a1a1a">6</text>
<text x="595.34" y="497.8" font-size="11.75" text-anchor="middle" stroke="#1a1a1a" stroke-width="0.18" fill="#1a1a1a">7</text>
<text x="620.96" y="497.8" font-size="11.75" text-anchor="middle" stroke="#1a1a1a" stroke-width="0.18" fill="#1a1a1a">8</text>
<text x="646.58" y="497.8" font-size="11.75" text-anchor="middle" stroke="#1a1a1a" stroke-width="0.18" fill="#1a1a1a">9</text>
<text x="672.2" y="497.8" font-size="11.75" text-anchor="middle" stroke="#1a1a1a" stroke-width="0.18" fill="#1a1a1a">10</text>
<text x="397.8" y="479.65" font-size="9.5" text-anchor="end" stroke="#222" stroke-width="0.18" fill="#222">0.0</text>
<text x="397.8" y="448.2" font-size="9.5" text-anchor="end" stroke="#222" stroke-width="0.18" fill="#222">0.2</text>
<text x="397.8" y="416.75" font-size="9.5" text-anchor="end" stroke="#222" stroke-width="0.18" fill="#222">0.4</text>
<text x="397.8" y="385.3" font-size="9.5" text-anchor="end" stroke="#222" stroke-width="0.18" fill="#222">0.6</text>
<text x="397.8" y="353.85" font-size="9.5" text-anchor="end" stroke="#222" stroke-width="0.18" fill="#222">0.8</text>
<text x="397.8" y="322.4" font-size="9.5" text-anchor="end" stroke="#222" stroke-width="0.18" fill="#222">1.0</text>
<text x="544.1" y="513.9" font-size="11.75" text-anchor="middle" stroke="#1a1a1a" stroke-width="0.18" fill="#1a1a1a">Time post transplantation (years)</text>
<text x="378.8" y="397.65" font-size="11.6" text-anchor="middle" stroke="#1a1a1a" stroke-width="0.18" fill="#1a1a1a" transform="rotate(-90 378.8 397.65)">Patient survival probability</text>
<text x="441.62" y="538.6" font-size="9" text-anchor="middle" stroke="#222" stroke-width="0.18" fill="#222">79</text>
<text x="467.24" y="538.6" font-size="9" text-anchor="middle" stroke="#222" stroke-width="0.18" fill="#222">79</text>
<text x="492.86" y="538.6" font-size="9" text-anchor="middle" stroke="#222" stroke-width="0.18" fill="#222">79</text>
<text x="518.48" y="538.6" font-size="9" text-anchor="middle" stroke="#222" stroke-width="0.18" fill="#222">79</text>
<text x="544.1" y="538.6" font-size="9" text-anchor="middle" stroke="#222" stroke-width="0.18" fill="#222">79</text>
<text x="569.72" y="538.6" font-size="9" text-anchor="middle" stroke="#222" stroke-width="0.18" fill="#222">79</text>
<text x="595.34" y="538.6" font-size="9" text-anchor="middle" stroke="#222" stroke-width="0.18" fill="#222">75</text>
<text x="620.96" y="538.6" font-size="9" text-anchor="middle" stroke="#222" stroke-width="0.18" fill="#222">65</text>
<text x="646.58" y="538.6" font-size="9" text-anchor="middle" stroke="#222" stroke-width="0.18" fill="#222">54</text>
<text x="672.2" y="538.6" font-size="9" text-anchor="middle" stroke="#222" stroke-width="0.18" fill="#222">45</text>
<text x="544.9" y="554.3" font-size="12.3" text-anchor="middle" stroke="#1a1a1a" stroke-width="0.18" fill="#1a1a1a">Number of patients at risk</text>
<rect x="404.15" y="605.9" width="35.45" height="162.95" fill="#e9e9e9"/>
<g clip-path="url(#c6)">
<path d="M439.8 610.9L458.7 611.4L469.7 611.12L478.8 612.79L489.7 613.43L493.4 614.44L506.2 614.83L508 616.09L515.3 615.91L517.1 616.57L522.6 616.38L529.9 618.75L539.9 618.3L542.7 619.18L548.1 619.24L556.4 620.36L560 621.8L569.1 622.75L581.9 623.61L587.4 626.43L598.3 629.19L605.6 631.92L614.7 631.87L616.6 632.87L623.9 632.5L628.4 634.98L638.5 634.88L643.9 636.42L649.4 638.57L654.9 638.62L658.5 639.76L676.8 638.93L680.4 640.76L684 644L684 666L680.4 662.44L676.8 660.27L658.5 659.44L654.9 657.98L649.4 657.43L643.9 654.78L638.5 652.72L628.4 651.82L623.9 648.9L616.6 648.53L614.7 647.34L605.6 646.48L598.3 643.01L587.4 639.17L581.9 635.8L569.1 633.66L560 631.8L556.4 630.04L548.1 628.16L542.7 627.62L539.9 626.5L529.9 626.05L522.6 623.02L517.1 622.83L515.3 622.09L508 621.91L506.2 620.57L493.4 619.56L489.7 618.37L478.8 617.21L469.7 615.08L458.7 614.2L439.8 611.7Z" fill="#d9dada"/>
<path d="M439.8 611.3L458.7 612.8L469.7 613.1L478.8 615L489.7 615.9L493.4 617L506.2 617.7L508 619L515.3 619L517.1 619.7L522.6 619.7L529.9 622.4L539.9 622.4L542.7 623.4L548.1 623.7L556.4 625.2L560 626.8L569.1 628.2L581.9 629.7L587.4 632.8L598.3 636.1L605.6 639.2L614.7 639.6L616.6 640.7L623.9 640.7L628.4 643.4L638.5 643.8L643.9 645.6L649.4 648L654.9 648.3L658.5 649.6L676.8 649.6L680.4 651.6L684 655" fill="none" stroke="#b0242e" stroke-width="1.6" stroke-linejoin="round"/>
</g>
<rect x="403.75" y="605.5" width="278.95" height="163.75" fill="none" stroke="#707070" stroke-width="1.45"/>
<path d="M413.75 769.25v4.3M439.6 769.25v4.3M465.45 769.25v4.3M491.3 769.25v4.3M517.15 769.25v4.3M543 769.25v4.3M568.85 769.25v4.3M594.7 769.25v4.3M620.55 769.25v4.3M646.4 769.25v4.3M672.25 769.25v4.3M403.75 763.75h-4.4M403.75 733.2h-4.4M403.75 702.65h-4.4M403.75 672.1h-4.4M403.75 641.55h-4.4M403.75 611h-4.4M439.6 810H672.25M439.6 810v3.4M465.45 810v3.4M491.3 810v3.4M517.15 810v3.4M543 810v3.4M568.85 810v3.4M594.7 810v3.4M620.55 810v3.4M646.4 810v3.4M672.25 810v3.4" stroke="#5c5c5c" stroke-width="1" fill="none"/>
<text x="413.75" y="784.9" font-size="11.6" text-anchor="middle" stroke="#1a1a1a" stroke-width="0.18" fill="#1a1a1a">0</text>
<text x="439.6" y="784.9" font-size="11.6" text-anchor="middle" stroke="#1a1a1a" stroke-width="0.18" fill="#1a1a1a">1</text>
<text x="465.45" y="784.9" font-size="11.6" text-anchor="middle" stroke="#1a1a1a" stroke-width="0.18" fill="#1a1a1a">2</text>
<text x="491.3" y="784.9" font-size="11.6" text-anchor="middle" stroke="#1a1a1a" stroke-width="0.18" fill="#1a1a1a">3</text>
<text x="517.15" y="784.9" font-size="11.6" text-anchor="middle" stroke="#1a1a1a" stroke-width="0.18" fill="#1a1a1a">4</text>
<text x="543" y="784.9" font-size="11.6" text-anchor="middle" stroke="#1a1a1a" stroke-width="0.18" fill="#1a1a1a">5</text>
<text x="568.85" y="784.9" font-size="11.6" text-anchor="middle" stroke="#1a1a1a" stroke-width="0.18" fill="#1a1a1a">6</text>
<text x="594.7" y="784.9" font-size="11.6" text-anchor="middle" stroke="#1a1a1a" stroke-width="0.18" fill="#1a1a1a">7</text>
<text x="620.55" y="784.9" font-size="11.6" text-anchor="middle" stroke="#1a1a1a" stroke-width="0.18" fill="#1a1a1a">8</text>
<text x="646.4" y="784.9" font-size="11.6" text-anchor="middle" stroke="#1a1a1a" stroke-width="0.18" fill="#1a1a1a">9</text>
<text x="672.25" y="784.9" font-size="11.6" text-anchor="middle" stroke="#1a1a1a" stroke-width="0.18" fill="#1a1a1a">10</text>
<text x="395.4" y="767.15" font-size="9.5" text-anchor="end" stroke="#222" stroke-width="0.18" fill="#222">0.0</text>
<text x="395.4" y="736.6" font-size="9.5" text-anchor="end" stroke="#222" stroke-width="0.18" fill="#222">0.2</text>
<text x="395.4" y="706.05" font-size="9.5" text-anchor="end" stroke="#222" stroke-width="0.18" fill="#222">0.4</text>
<text x="395.4" y="675.5" font-size="9.5" text-anchor="end" stroke="#222" stroke-width="0.18" fill="#222">0.6</text>
<text x="395.4" y="644.95" font-size="9.5" text-anchor="end" stroke="#222" stroke-width="0.18" fill="#222">0.8</text>
<text x="395.4" y="614.4" font-size="9.5" text-anchor="end" stroke="#222" stroke-width="0.18" fill="#222">1.0</text>
<text x="543.23" y="800.2" font-size="11.4" text-anchor="middle" stroke="#1a1a1a" stroke-width="0.18" fill="#1a1a1a">Time post transplantation (years)</text>
<text x="377.6" y="687.38" font-size="11.25" text-anchor="middle" stroke="#1a1a1a" stroke-width="0.18" fill="#1a1a1a" transform="rotate(-90 377.6 687.38)">Patient survival probability</text>
<text x="439.6" y="824.6" font-size="9" text-anchor="middle" stroke="#222" stroke-width="0.18" fill="#222">261</text>
<text x="465.45" y="824.6" font-size="9" text-anchor="middle" stroke="#222" stroke-width="0.18" fill="#222">260</text>
<text x="491.3" y="824.6" font-size="9" text-anchor="middle" stroke="#222" stroke-width="0.18" fill="#222">253</text>
<text x="517.15" y="824.6" font-size="9" text-anchor="middle" stroke="#222" stroke-width="0.18" fill="#222">235</text>
<text x="543" y="824.6" font-size="9" text-anchor="middle" stroke="#222" stroke-width="0.18" fill="#222">184</text>
<text x="568.85" y="824.6" font-size="9" text-anchor="middle" stroke="#222" stroke-width="0.18" fill="#222">162</text>
<text x="594.7" y="824.6" font-size="9" text-anchor="middle" stroke="#222" stroke-width="0.18" fill="#222">123</text>
<text x="620.55" y="824.6" font-size="9" text-anchor="middle" stroke="#222" stroke-width="0.18" fill="#222">96</text>
<text x="646.4" y="824.6" font-size="9" text-anchor="middle" stroke="#222" stroke-width="0.18" fill="#222">73</text>
<text x="672.25" y="824.6" font-size="9" text-anchor="middle" stroke="#222" stroke-width="0.18" fill="#222">55</text>
<text x="544.02" y="839.6" font-size="12.05" text-anchor="middle" stroke="#1a1a1a" stroke-width="0.18" fill="#1a1a1a">Number of patients at risk</text>
<rect x="404.15" y="882.65" width="35.45" height="163.2" fill="#e9e9e9"/>
<g clip-path="url(#c7)">
<path d="M439.8 888.5L453.2 889.79L466.9 888.91L470.6 890.47L484.3 889.59L486.1 890.98L495.2 890.39L497 891.58L506.2 890.98L509.8 894.13L512.6 893.79L514.4 895.47L519 896.7L533.5 899.12L539.9 898.33L545 900.5L548.1 903.99L554.8 903.54L555.6 908.19L567.9 907.36L574.6 915.31L580.8 918.19L596.1 917.16L599.2 919.35L600.2 922.98L609.4 922.25L617.6 926.09L621.6 925.77L622.7 928.08L627.8 927.68L629.8 930.22L639 929.48L645.1 932.09L647.2 935.32L653.3 934.86L654.7 938.05L666.6 937.18L669.7 941.85L676.8 947.03L684 946.5L684 986.5L676.8 985.97L669.7 979.75L666.6 974.62L654.7 973.75L653.3 970.34L647.2 969.88L645.1 966.31L639 962.72L629.8 961.98L627.8 959.12L622.7 958.72L621.6 956.23L617.6 955.91L609.4 950.75L600.2 950.02L599.2 946.25L596.1 943.64L580.8 942.61L574.6 938.89L567.9 930.04L555.6 929.21L554.8 924.46L548.1 924.01L545 920.1L539.9 916.67L533.5 915.88L519 909.9L514.4 907.53L512.6 905.41L509.8 905.07L506.2 901.02L497 900.42L495.2 899.01L486.1 898.42L484.3 896.81L470.6 895.93L466.9 893.89L453.2 893.01L439.8 889.5Z" fill="#d9dada"/>
<path d="M439.8 889L453.2 891.4L466.9 891.4L470.6 893.2L484.3 893.2L486.1 894.7L495.2 894.7L497 896L506.2 896L509.8 899.6L512.6 899.6L514.4 901.5L519 903.3L533.5 907.5L539.9 907.5L545 910.3L548.1 914L554.8 914L555.6 918.7L567.9 918.7L574.6 927.1L580.8 930.4L596.1 930.4L599.2 932.8L600.2 936.5L609.4 936.5L617.6 941L621.6 941L622.7 943.4L627.8 943.4L629.8 946.1L639 946.1L645.1 949.2L647.2 952.6L653.3 952.6L654.7 955.9L666.6 955.9L669.7 960.8L676.8 966.5L684 966.5" fill="none" stroke="#2a2f92" stroke-width="1.6" stroke-linejoin="round"/>
</g>
<rect x="403.75" y="882.25" width="278.95" height="164" fill="none" stroke="#707070" stroke-width="1.45"/>
<path d="M413.75 1046.25v4.3M439.6 1046.25v4.3M465.45 1046.25v4.3M491.3 1046.25v4.3M517.15 1046.25v4.3M543 1046.25v4.3M568.85 1046.25v4.3M594.7 1046.25v4.3M620.55 1046.25v4.3M646.4 1046.25v4.3M672.25 1046.25v4.3M403.75 1040.75h-4.4M403.75 1010.15h-4.4M403.75 979.55h-4.4M403.75 948.95h-4.4M403.75 918.35h-4.4M403.75 887.75h-4.4M439.6 1087H672.25M439.6 1087v3.4M465.45 1087v3.4M491.3 1087v3.4M517.15 1087v3.4M543 1087v3.4M568.85 1087v3.4M594.7 1087v3.4M620.55 1087v3.4M646.4 1087v3.4M672.25 1087v3.4" stroke="#5c5c5c" stroke-width="1" fill="none"/>
<text x="413.75" y="1062" font-size="11.6" text-anchor="middle" stroke="#1a1a1a" stroke-width="0.18" fill="#1a1a1a">0</text>
<text x="439.6" y="1062" font-size="11.6" text-anchor="middle" stroke="#1a1a1a" stroke-width="0.18" fill="#1a1a1a">1</text>
<text x="465.45" y="1062" font-size="11.6" text-anchor="middle" stroke="#1a1a1a" stroke-width="0.18" fill="#1a1a1a">2</text>
<text x="491.3" y="1062" font-size="11.6" text-anchor="middle" stroke="#1a1a1a" stroke-width="0.18" fill="#1a1a1a">3</text>
<text x="517.15" y="1062" font-size="11.6" text-anchor="middle" stroke="#1a1a1a" stroke-width="0.18" fill="#1a1a1a">4</text>
<text x="543" y="1062" font-size="11.6" text-anchor="middle" stroke="#1a1a1a" stroke-width="0.18" fill="#1a1a1a">5</text>
<text x="568.85" y="1062" font-size="11.6" text-anchor="middle" stroke="#1a1a1a" stroke-width="0.18" fill="#1a1a1a">6</text>
<text x="594.7" y="1062" font-size="11.6" text-anchor="middle" stroke="#1a1a1a" stroke-width="0.18" fill="#1a1a1a">7</text>
<text x="620.55" y="1062" font-size="11.6" text-anchor="middle" stroke="#1a1a1a" stroke-width="0.18" fill="#1a1a1a">8</text>
<text x="646.4" y="1062" font-size="11.6" text-anchor="middle" stroke="#1a1a1a" stroke-width="0.18" fill="#1a1a1a">9</text>
<text x="672.25" y="1062" font-size="11.6" text-anchor="middle" stroke="#1a1a1a" stroke-width="0.18" fill="#1a1a1a">10</text>
<text x="395.4" y="1044.15" font-size="9.5" text-anchor="end" stroke="#222" stroke-width="0.18" fill="#222">0.0</text>
<text x="395.4" y="1013.55" font-size="9.5" text-anchor="end" stroke="#222" stroke-width="0.18" fill="#222">0.2</text>
<text x="395.4" y="982.95" font-size="9.5" text-anchor="end" stroke="#222" stroke-width="0.18" fill="#222">0.4</text>
<text x="395.4" y="952.35" font-size="9.5" text-anchor="end" stroke="#222" stroke-width="0.18" fill="#222">0.6</text>
<text x="395.4" y="921.75" font-size="9.5" text-anchor="end" stroke="#222" stroke-width="0.18" fill="#222">0.8</text>
<text x="395.4" y="891.15" font-size="9.5" text-anchor="end" stroke="#222" stroke-width="0.18" fill="#222">1.0</text>
<text x="543.23" y="1077.1" font-size="11.4" text-anchor="middle" stroke="#1a1a1a" stroke-width="0.18" fill="#1a1a1a">Time post transplantation (years)</text>
<text x="377.6" y="964.25" font-size="11.25" text-anchor="middle" stroke="#1a1a1a" stroke-width="0.18" fill="#1a1a1a" transform="rotate(-90 377.6 964.25)">Patient survival probability</text>
<text x="439.6" y="1101.6" font-size="9" text-anchor="middle" stroke="#222" stroke-width="0.18" fill="#222">138</text>
<text x="465.45" y="1101.6" font-size="9" text-anchor="middle" stroke="#222" stroke-width="0.18" fill="#222">135</text>
<text x="491.3" y="1101.6" font-size="9" text-anchor="middle" stroke="#222" stroke-width="0.18" fill="#222">129</text>
<text x="517.15" y="1101.6" font-size="9" text-anchor="middle" stroke="#222" stroke-width="0.18" fill="#222">116</text>
<text x="543" y="1101.6" font-size="9" text-anchor="middle" stroke="#222" stroke-width="0.18" fill="#222">101</text>
<text x="568.85" y="1101.6" font-size="9" text-anchor="middle" stroke="#222" stroke-width="0.18" fill="#222">80</text>
<text x="594.7" y="1101.6" font-size="9" text-anchor="middle" stroke="#222" stroke-width="0.18" fill="#222">61</text>
<text x="620.55" y="1101.6" font-size="9" text-anchor="middle" stroke="#222" stroke-width="0.18" fill="#222">40</text>
<text x="646.4" y="1101.6" font-size="9" text-anchor="middle" stroke="#222" stroke-width="0.18" fill="#222">30</text>
<text x="672.25" y="1101.6" font-size="9" text-anchor="middle" stroke="#222" stroke-width="0.18" fill="#222">20</text>
<text x="544.02" y="1116.8" font-size="12.05" text-anchor="middle" stroke="#1a1a1a" stroke-width="0.18" fill="#1a1a1a">Number of patients at risk</text>
</svg>
</body></html>
